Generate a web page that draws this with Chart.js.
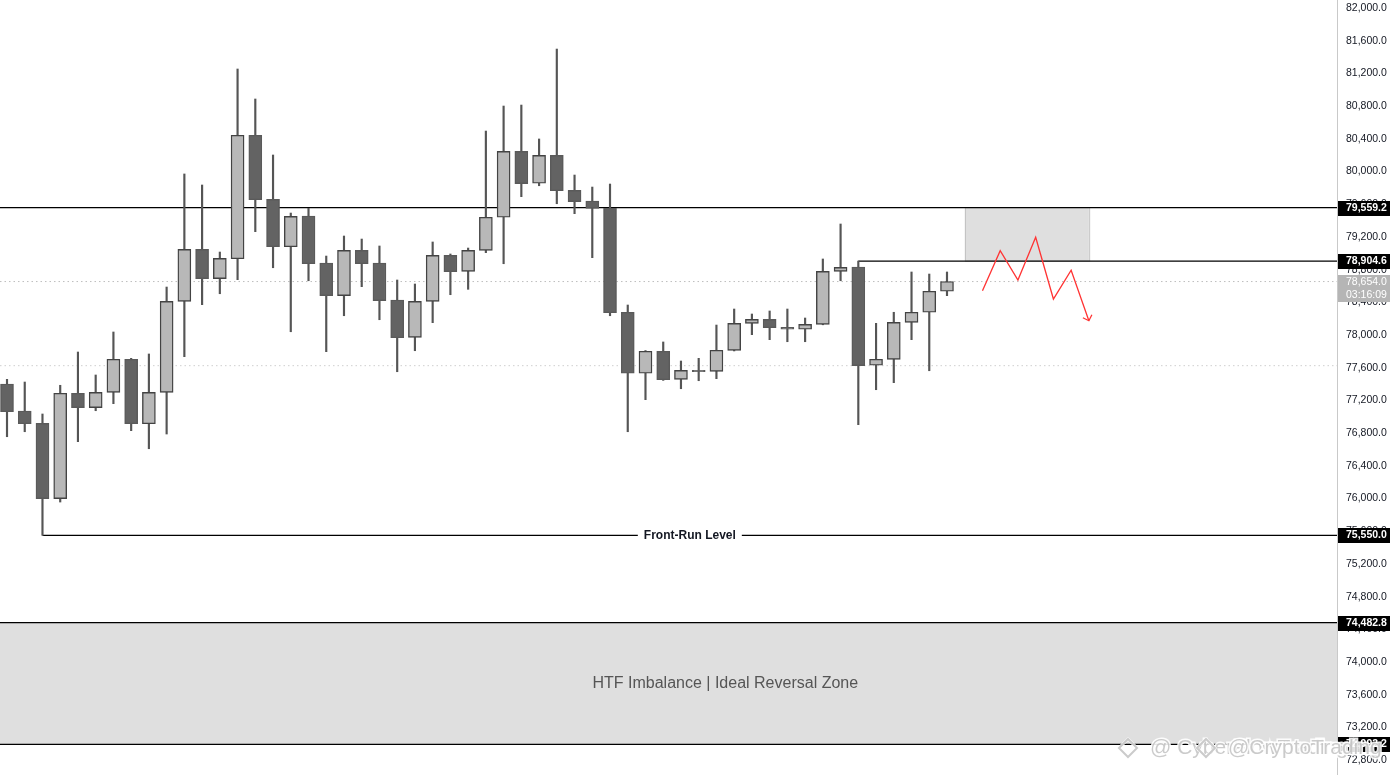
<!DOCTYPE html>
<html>
<head>
<meta charset="utf-8">
<script src="https://cdn.jsdelivr.net/npm/chart.js@4.4.1/dist/chart.umd.min.js"></script>
<style>
  html, body { margin: 0; padding: 0; background: #fff; overflow: hidden; }
</style>
</head>
<body>
<canvas id="chartcanvas" width="1393" height="775"></canvas>
<script>
// candle values (index 0 = leftmost candle)
const opens = [77401, 77070, 76920, 75998, 77287, 77111, 77299, 77703, 76915, 77299,
  78412, 79048, 78689, 78933, 80443, 79660, 79080, 79456, 78881, 78481,
  79036, 78881, 78428, 77972, 78412, 78975, 78779, 79036, 79440, 80247,
  79856, 80198, 79770, 79639, 79550, 78278, 77532, 77801, 77458, 77568,
  77556, 77813, 78143, 78192, 78094, 78070, 78131, 78779, 78832, 77630,
  77703, 78155, 78278, 78535];
const highs = [77458, 77425, 77034, 77385, 77792, 77511, 78037, 77715, 77768, 78587,
  79970, 79835, 79015, 81254, 80887, 80202, 79492, 79550, 78966, 79211,
  79174, 79089, 78673, 78624, 79138, 78991, 79064, 80495, 80801, 80813,
  80398, 81498, 79957, 79810, 79847, 78367, 77810, 77915, 77682, 77715,
  78122, 78318, 78257, 78294, 78318, 78208, 78930, 79358, 78904.6, 78143,
  78278, 78771, 78746, 78771];
const lows = [76756, 76817, 75550, 75957, 76695, 77074, 77160, 76830, 76609, 76789,
  77735, 78371, 78505, 78677, 79264, 78823, 78040, 78664, 77796, 78236,
  78591, 78187, 77551, 77808, 78151, 78493, 78559, 79007, 78872, 79692,
  79826, 79606, 79484, 78946, 78236, 76817, 77209, 77445, 77343, 77441,
  77466, 77805, 78004, 77943, 77918, 77918, 78125, 78664, 76903, 77331,
  77417, 77943, 77563, 78481];
const closes = [77062, 76915, 75998, 77287, 77111, 77299, 77703, 76915, 77299, 78412,
  79048, 78689, 78938, 80443, 79655, 79080, 79452, 78872, 78481, 79036,
  78872, 78420, 77967, 78412, 78975, 78774, 79036, 79440, 80247, 79851,
  80198, 79765, 79631, 79550, 78273, 77532, 77801, 77453, 77568, 77552,
  77813, 78143, 78192, 78089, 78070, 78131, 78779, 78828, 77625, 77703,
  78155, 78278, 78535, 78654];

// price levels
const resistance = 79559.2;
const swingHigh = 78904.6;
const frontRun = 75550.0;
const zoneTop = 74482.8;
const zoneBottom = 72992.2;
const lastPrice = 78654.0;
const prevClose = 77625;
const countdown = "03:16:09";

// projected path (red)
const pathX = [55, 56, 57, 58, 59, 60, 61];
const pathY = [78542, 79031, 78673, 79195, 78440, 78792, 78175];

// target box (candle index range)
const targetBox = [54, 61];

const yTicks = [72800, 73200, 73600, 74000, 74400, 74800, 75200, 75600, 76000, 76400,
  76800, 77200, 77600, 78000, 78400, 78800, 79200, 79600, 80000, 80400,
  80800, 81200, 81600, 82000];

const xMin = -0.395, xMax = 74.99;
const yMin = 72618, yMax = 82098;

const fmt = v => v.toLocaleString("en-US", { minimumFractionDigits: 1, maximumFractionDigits: 1 });

const idx = opens.map((_, i) => i);
const isUp = idx.map(i => closes[i] >= opens[i]);

const bodies = idx.map(i => ({ x: i, y: [opens[i], closes[i]] }));
const wicks = idx.map(i => ({ x: i, y: [lows[i], highs[i]] }));

const hline = (from, value) => [{ x: from, y: value }, { x: xMax, y: value }];
const lineDs = (data, color, width, dash) => ({
  type: "line",
  data: data,
  borderColor: color,
  borderWidth: width,
  borderDash: dash || [],
  pointRadius: 0,
  tension: 0,
  order: 3,
});

const overlay = {
  id: "overlay",
  beforeDatasetsDraw(chart) {
    const { ctx, chartArea: a, scales: { x, y } } = chart;
    ctx.save();
    // HTF imbalance zone
    const zt = y.getPixelForValue(zoneTop), zb = y.getPixelForValue(zoneBottom);
    ctx.fillStyle = "#dfdfdf";
    ctx.fillRect(a.left, zt, a.right - a.left, zb - zt);
    // target box
    const bx0 = x.getPixelForValue(targetBox[0]), bx1 = x.getPixelForValue(targetBox[1]);
    const by0 = y.getPixelForValue(resistance), by1 = y.getPixelForValue(swingHigh);
    ctx.fillRect(bx0, by0, bx1 - bx0, by1 - by0);
    ctx.strokeStyle = "#c4c4c4";
    ctx.lineWidth = 1;
    ctx.strokeRect(Math.round(bx0) + 0.5, by0, bx1 - bx0, by1 - by0);
    // zone label
    ctx.fillStyle = "#555";
    ctx.font = '16px "Liberation Sans"';
    ctx.textAlign = "center";
    ctx.textBaseline = "middle";
    ctx.fillText("HTF Imbalance | Ideal Reversal Zone", x.getPixelForValue(40.5), (zt + zb) / 2);
    ctx.restore();
  },
  afterDatasetsDraw(chart) {
    const { ctx, scales: { x, y } } = chart;
    ctx.save();
    // front-run label
    ctx.font = 'bold 12px "Liberation Sans"';
    const label = "Front-Run Level";
    const w = ctx.measureText(label).width;
    const lx = x.getPixelForValue(38.5), ly = y.getPixelForValue(frontRun);
    ctx.fillStyle = "#fff";
    ctx.fillRect(lx - w / 2 - 6, ly - 8, w + 12, 16);
    ctx.fillStyle = "#131722";
    ctx.textAlign = "center";
    ctx.textBaseline = "middle";
    ctx.fillText(label, lx, ly + 0.5);
    // arrow head at end of path
    const n = pathX.length - 1;
    const tx = x.getPixelForValue(pathX[n]), ty = y.getPixelForValue(pathY[n]);
    ctx.strokeStyle = "#ff3333";
    ctx.lineWidth = 1.3;
    ctx.beginPath();
    ctx.moveTo(tx - 6, ty - 3);
    ctx.lineTo(tx, ty);
    ctx.lineTo(tx + 3, ty - 6);
    ctx.stroke();
    ctx.restore();
  },
  afterDraw(chart) {
    const { ctx, chartArea: a, scales: { y } } = chart;
    ctx.save();
    // price tags on the axis
    const tag = (value) => {
      const py = Math.round(y.getPixelForValue(value));
      ctx.fillStyle = "#000";
      ctx.fillRect(a.right + 1, py - 7, 52, 15);
      ctx.fillStyle = "#fff";
      ctx.font = 'bold 10.5px "Liberation Sans"';
      ctx.textAlign = "left";
      ctx.textBaseline = "middle";
      ctx.fillText(fmt(value), a.right + 9, py + 0.5);
    };
    [resistance, swingHigh, frontRun, zoneTop, zoneBottom].forEach(tag);
    // last price + countdown
    const lp = Math.round(y.getPixelForValue(lastPrice));
    ctx.fillStyle = "#b5b5b5";
    ctx.fillRect(a.right + 1, lp - 7, 52, 27);
    ctx.fillStyle = "#fff";
    ctx.font = '10.5px "Liberation Sans"';
    ctx.textAlign = "left";
    ctx.textBaseline = "middle";
    ctx.fillText(fmt(lastPrice), a.right + 9, lp);
    ctx.fillText(countdown, a.right + 9, lp + 13);
    // watermark
    ctx.font = '21px "Liberation Sans"';
    ctx.lineWidth = 3;
    ctx.strokeStyle = "rgba(255,255,255,0.9)";
    ctx.fillStyle = "rgba(185,185,185,0.75)";
    ctx.textBaseline = "middle";
    const wm = (text, px, py) => {
      ctx.strokeText(text, px, py);
      ctx.fillText(text, px, py);
      // diamond logo
      const dx = px - 22;
      ctx.beginPath();
      ctx.moveTo(dx, py - 9); ctx.lineTo(dx + 9, py); ctx.lineTo(dx, py + 9); ctx.lineTo(dx - 9, py);
      ctx.closePath();
      ctx.stroke();
      ctx.strokeStyle = "rgba(185,185,185,0.75)";
      ctx.lineWidth = 2;
      ctx.stroke();
      ctx.strokeStyle = "rgba(255,255,255,0.9)";
      ctx.lineWidth = 3;
    };
    wm("@ CyberFlowTrading", 1150, 748);
    wm("@CryptoTrading", 1228, 748);
    ctx.restore();
  },
};

const config = {
  type: "bar",
  data: {
    datasets: [
      {
        label: "bodies",
        data: bodies,
        backgroundColor: isUp.map(u => (u ? "#b8b8b8" : "#636363")),
        borderColor: isUp.map(u => (u ? "#434343" : "#5a5a5a")),
        borderWidth: 1.4,
        borderSkipped: false,
        barThickness: 13,
        grouped: false,
        order: 0,
      },
      {
        label: "wicks",
        data: wicks,
        backgroundColor: "#555555",
        borderWidth: 0,
        barThickness: 1.5,
        grouped: false,
        order: 1,
      },
      Object.assign(lineDs(pathX.map((v, i) => ({ x: v, y: pathY[i] })), "#ff3333", 1.3), { order: -1 }),
      lineDs(hline(xMin, resistance), "#000", 1.2),
      lineDs(hline(48, swingHigh), "#000", 1.2),
      lineDs(hline(2, frontRun), "#000", 1.2),
      lineDs(hline(xMin, zoneTop), "#000", 1.2),
      lineDs(hline(xMin, zoneBottom), "#000", 1.2),
      lineDs(hline(xMin, lastPrice), "#bdbdbd", 1, [1.5, 3]),
      lineDs(hline(xMin, prevClose), "#cfcfcf", 1, [1.5, 3]),
    ],
  },
  options: {
    responsive: false,
    animation: false,
    layout: { padding: 0, autoPadding: false },
    plugins: { legend: { display: false }, tooltip: { enabled: false } },
    scales: {
      x: {
        type: "linear",
        min: xMin,
        max: xMax,
        offset: false,
        display: false,
      },
      y: {
        type: "linear",
        position: "right",
        min: yMin,
        max: yMax,
        grid: { display: false, drawTicks: false },
        border: { display: true, color: "#c9c9c9", width: 1 },
        ticks: {
          color: "#131722",
          padding: 9,
          font: { family: "Liberation Sans", size: 10.5 },
          callback: v => fmt(v),
        },
        afterBuildTicks: s => { s.ticks = yTicks.map(v => ({ value: v })); },
        afterFit: s => {
          s.width = 56;
          s.paddingTop = 0;
          s.paddingBottom = 0;
        },
      },
    },
  },
  plugins: [overlay],
};

const chart = new Chart(document.getElementById("chartcanvas"), config);
</script>
</body>
</html>
